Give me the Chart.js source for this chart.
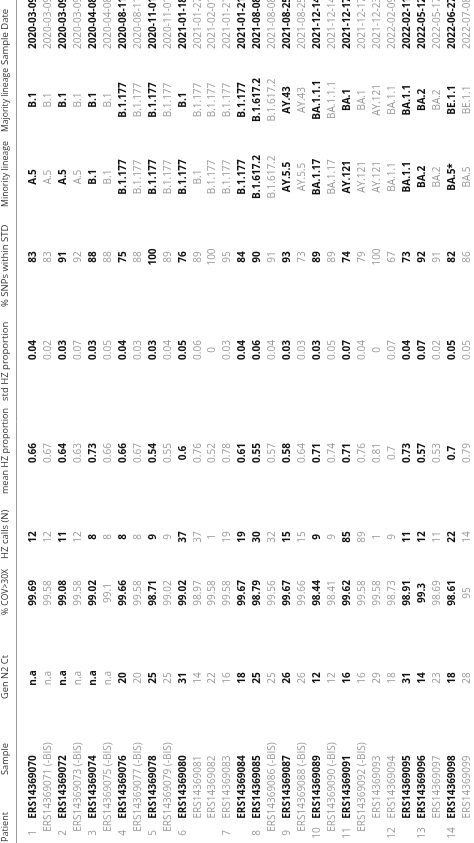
<!DOCTYPE html>
<html>
<head>
<meta charset="utf-8">
<script src="https://cdn.jsdelivr.net/npm/chart.js@4"></script>
<style>
  html, body { margin: 0; padding: 0; background: #fff; overflow: hidden; }
  #wrap {
    position: absolute; left: 0; top: 0; width: 843px; height: 474px;
    transform-origin: 0 0; transform: translate(0px, 843px) rotate(-90deg);
  }
</style>
</head>
<body>
<div id="wrap"><canvas id="tabla" width="843" height="474"></canvas></div>
<script>
// --- Datos de la tabla ---
const headers = ["Patient", "Sample", "Gen N2 Ct", "% COV>30X", "HZ calls (N)", "mean HZ proportion",
  "std HZ proportion", "% SNPs within STD", "Minority lineage", "Majority lineage", "Sample Date"];

const patients = ["1","","2","","3","","4","","5","","6","","","7","","8","","9","","10","","11","","","12","","13","","14",""];
const samples = ["ERS14369070","ERS14369071 (-BIS)","ERS14369072","ERS14369073 (-BIS)","ERS14369074","ERS14369075 (-BIS)",
  "ERS14369076","ERS14369077 (-BIS)","ERS14369078","ERS14369079 (-BIS)","ERS14369080","ERS14369081","ERS14369082",
  "ERS14369083","ERS14369084","ERS14369085","ERS14369086 (-BIS)","ERS14369087","ERS14369088 (-BIS)","ERS14369089",
  "ERS14369090 (-BIS)","ERS14369091","ERS14369092 (-BIS)","ERS14369093","ERS14369094","ERS14369095","ERS14369096",
  "ERS14369097","ERS14369098","ERS14369099"];
const genCt = ["n.a","n.a","n.a","n.a","n.a","n.a","20","20","25","25","31","14","22","16","18","25","25","26","26","12","12","16","16","29","18","31","14","23","18","28"];
const cov30 = ["99.69","99.58","99.08","99.58","99.02","99.1","99.66","99.58","98.71","99.02","99.02","98.97","99.58","99.58","99.67",
  "98.79","99.56","99.67","99.66","98.44","98.41","99.62","99.58","99.58","98.73","98.91","99.3","98.69","98.61","95"];
const hzCalls = ["12","12","11","12","8","8","8","8","9","9","37","37","1","19","19","30","32","15","15","9","9","85","89","1","9","11","12","11","22","14"];
const meanHz = ["0.66","0.67","0.64","0.63","0.73","0.66","0.66","0.67","0.54","0.55","0.6","0.76","0.52","0.78","0.61",
  "0.55","0.57","0.58","0.64","0.71","0.74","0.71","0.76","0.81","0.7","0.73","0.57","0.53","0.7","0.79"];
const stdHz = ["0.04","0.02","0.03","0.07","0.03","0.05","0.04","0.03","0.03","0.04","0.05","0.06","0","0.03","0.04",
  "0.06","0.04","0.03","0.03","0.03","0.05","0.07","0.04","0","0.07","0.04","0.07","0.02","0.05","0.05"];
const snpsStd = ["83","83","91","92","88","88","75","88","100","89","76","89","100","95","84","90","91","93","73","89","89","74","79","100","67","73","92","91","82","86"];
const minority = ["A.5","A.5","A.5","A.5","B.1","B.1","B.1.177","B.1.177","B.1.177","B.1.177","B.1.177","B.1","B.1.177","B.1.177","B.1.177",
  "B.1.617.2","B.1.617.2","AY.5.5","AY.5.5","BA.1.17","BA.1.17","AY.121","AY.121","AY.121","BA.1.1","BA.1.1","BA.2","BA.2","BA.5*","BA.5"];
const majority = ["B.1","B.1","B.1","B.1","B.1","B.1","B.1.177","B.1.177","B.1.177","B.1.177","B.1","B.1.177","B.1.177","B.1.177","B.1.177",
  "B.1.617.2","B.1.617.2","AY.43","AY.43","BA.1.1.1","BA.1.1.1","BA.1","BA.1","AY.121","BA.1.1","BA.1.1","BA.2","BA.2","BE.1.1","BE.1.1"];
const sampleDate = ["2020-03-09","2020-03-09","2020-03-09","2020-03-09","2020-04-08","2020-04-08","2020-08-11","2020-08-11","2020-11-01","2020-11-01",
  "2021-01-18","2021-01-27","2021-02-01","2021-01-21","2021-01-21","2021-08-08","2021-08-08","2021-08-25","2021-08-25","2021-12-14",
  "2021-12-14","2021-12-17","2021-12-17","2021-12-23","2022-02-09","2022-02-11","2022-05-12","2022-05-17","2022-06-27","2022-07-08"];
const boldRow = [1,0,1,0,1,0,1,0,1,0,1,0,0,0,1,1,0,1,0,1,0,1,0,0,0,1,1,0,1,0];

const columns = [patients, samples, genCt, cov30, hzCalls, meanHz, stdHz, snpsStd, minority, majority, sampleDate];

// --- Layout (posiciones de columnas en el eje x) ---
const colX = [10, 56, 165, 250, 306, 390, 493, 586, 666, 743, 820];
const headerX = [1, 68, 144, 228, 284, 349, 442, 536, 636, 711, 778];
const headerW = [30, 32, 44, 46, 52, 86, 84, 96, 66, 64, 66];
const FONT = '"Open Sans", "Noto Sans", sans-serif';

// Un dataset por columna, un punto por fila
const datasets = columns.map((col, c) => ({
  data: col.map((txt, r) => ({ x: colX[c], y: r })),
  pointRadius: 0
}));

const textPlugin = {
  id: 'textoCeldas',
  afterDatasetsDraw(chart) {
    const ctx = chart.ctx;
    const xs = chart.scales.x, ys = chart.scales.y;
    ctx.save();
    ctx.textBaseline = 'middle';
    // cabeceras
    const hy = ys.getPixelForValue(-1.87);
    ctx.fillStyle = '#333';
    ctx.font = '9.5px ' + FONT;
    ctx.textAlign = 'left';
    headers.forEach((h, c) => ctx.fillText(h, xs.getPixelForValue(headerX[c]), hy, headerW[c]));
    // línea bajo la cabecera
    const ly = ys.getPixelForValue(-1.1);
    ctx.strokeStyle = '#999';
    ctx.lineWidth = 1;
    ctx.beginPath();
    ctx.moveTo(0, ly); ctx.lineTo(chart.width, ly);
    ctx.stroke();
    // celdas
    ctx.textAlign = 'center';
    chart.data.datasets.forEach((ds, c) => {
      chart.getDatasetMeta(c).data.forEach((pt, r) => {
        const bold = boldRow[r] && c > 0;
        ctx.font = (bold ? 'bold ' : '') + '10px ' + FONT;
        ctx.fillStyle = bold ? '#111' : '#9a9a9a';
        ctx.fillText(columns[c][r], pt.x, pt.y);
      });
    });
    ctx.restore();
  }
};

new Chart(document.getElementById('tabla'), {
  type: 'scatter',
  data: { datasets },
  options: {
    responsive: false,
    animation: false,
    layout: { padding: 0 },
    plugins: { legend: { display: false }, tooltip: { enabled: false } },
    scales: {
      x: { type: 'linear', min: 0, max: 843, display: false },
      y: { type: 'linear', min: -2.204, max: 29.459, reverse: true, display: false }
    }
  },
  plugins: [textPlugin]
});
</script>
</body>
</html>
